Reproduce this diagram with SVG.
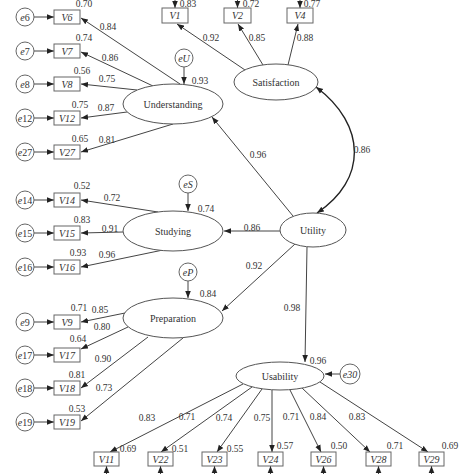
<svg xmlns="http://www.w3.org/2000/svg" width="474" height="474" viewBox="0 0 474 474">
<defs>
<marker id="a" viewBox="0 0 10 10" refX="10" refY="5" markerWidth="7" markerHeight="7" orient="auto-start-reverse" markerUnits="userSpaceOnUse"><path d="M0,1 L10,5 L0,9 z" fill="#222"/></marker>
</defs>
<style>
text{font-family:"Liberation Serif","DejaVu Serif",serif;fill:#333;font-size:9.5px;text-anchor:middle}
.v{font-style:italic;font-size:10px}
.n{font-size:10px}
.e{font-size:10px}
.l{stroke:#444;stroke-width:1;fill:none;marker-end:url(#a)}
.b{fill:#fff;stroke:#666;stroke-width:1}
.c{fill:#fff;stroke:#666;stroke-width:1}
.el{fill:#fff;stroke:#555;stroke-width:1}
</style>
<rect width="474" height="474" fill="#fff"/>
<g id="connectors">
<line class="l" x1="34" y1="17" x2="54" y2="17"/>
<line class="l" x1="34" y1="51" x2="54" y2="51"/>
<line class="l" x1="34" y1="84" x2="54" y2="84"/>
<line class="l" x1="34" y1="118" x2="54" y2="118"/>
<line class="l" x1="34" y1="152" x2="54" y2="152"/>
<line class="l" x1="34" y1="200" x2="54" y2="200"/>
<line class="l" x1="34" y1="233" x2="54" y2="233"/>
<line class="l" x1="34" y1="267" x2="54" y2="267"/>
<line class="l" x1="34" y1="322" x2="54" y2="322"/>
<line class="l" x1="34" y1="355" x2="54" y2="355"/>
<line class="l" x1="34" y1="388" x2="54" y2="388"/>
<line class="l" x1="34" y1="422" x2="54" y2="422"/>
<line class="l" x1="175" y1="-2" x2="175" y2="8"/>
<line class="l" x1="237.5" y1="-2" x2="237.5" y2="8"/>
<line class="l" x1="300" y1="-2" x2="300" y2="8"/>
<line class="l" x1="106.5" y1="476" x2="106.5" y2="466"/>
<line class="l" x1="160.5" y1="476" x2="160.5" y2="466"/>
<line class="l" x1="214.5" y1="476" x2="214.5" y2="466"/>
<line class="l" x1="270.5" y1="476" x2="270.5" y2="466"/>
<line class="l" x1="323.5" y1="476" x2="323.5" y2="466"/>
<line class="l" x1="378.5" y1="476" x2="378.5" y2="466"/>
<line class="l" x1="431.5" y1="476" x2="431.5" y2="466"/>
<line class="l" x1="184" y1="67" x2="184" y2="84"/>
<line class="l" x1="188" y1="193" x2="188" y2="211"/>
<line class="l" x1="188" y1="281" x2="188" y2="298"/>
<line class="l" x1="340" y1="374" x2="325" y2="374"/>
<line class="l" x1="180" y1="84" x2="81" y2="18"/>
<line class="l" x1="153" y1="86" x2="81" y2="52"/>
<line class="l" x1="137" y1="90" x2="81" y2="84"/>
<line class="l" x1="127" y1="112" x2="81" y2="118"/>
<line class="l" x1="173" y1="124" x2="81" y2="152"/>
<line class="l" x1="245" y1="70" x2="177" y2="24"/>
<line class="l" x1="263" y1="65" x2="238" y2="24"/>
<line class="l" x1="288" y1="65" x2="298" y2="24"/>
<line class="l" x1="158" y1="212" x2="81" y2="200"/>
<line class="l" x1="123" y1="232" x2="81" y2="233"/>
<line class="l" x1="163" y1="250" x2="81" y2="267"/>
<line class="l" x1="125" y1="313" x2="81" y2="322"/>
<line class="l" x1="128" y1="327" x2="81" y2="349"/>
<line class="l" x1="148" y1="337" x2="81" y2="388"/>
<line class="l" x1="183" y1="338" x2="81" y2="421"/>
<line class="l" x1="293" y1="216" x2="212" y2="117"/>
<line class="l" x1="280" y1="231" x2="224" y2="231"/>
<line class="l" x1="295" y1="244" x2="222" y2="311"/>
<line class="l" x1="307" y1="247" x2="305" y2="362"/>
<line class="l" x1="243" y1="384" x2="110" y2="452"/>
<line class="l" x1="252" y1="387" x2="161" y2="452"/>
<line class="l" x1="262" y1="389" x2="217" y2="452"/>
<line class="l" x1="272" y1="390" x2="272" y2="452"/>
<line class="l" x1="290" y1="390" x2="321" y2="452"/>
<line class="l" x1="302" y1="388" x2="370" y2="452"/>
<line class="l" x1="320" y1="382" x2="428" y2="452"/>
<path d="M316,87C367,125 367,180 317,213" stroke="#222" stroke-width="1.4" fill="none" marker-start="url(#a)" marker-end="url(#a)"/>
</g>
<g id="errors">
<g id="e6"><circle class="c" cx="25" cy="17" r="9"/><text class="e" x="25" y="20.5"><tspan font-style="italic">e</tspan>6</text></g>
<g id="e7"><circle class="c" cx="25" cy="51" r="9"/><text class="e" x="25" y="54.5"><tspan font-style="italic">e</tspan>7</text></g>
<g id="e8"><circle class="c" cx="25" cy="84" r="9"/><text class="e" x="25" y="87.5"><tspan font-style="italic">e</tspan>8</text></g>
<g id="e12"><circle class="c" cx="25" cy="118" r="9"/><text class="e" x="25" y="121.5"><tspan font-style="italic">e</tspan>12</text></g>
<g id="e27"><circle class="c" cx="25" cy="152" r="9"/><text class="e" x="25" y="155.5"><tspan font-style="italic">e</tspan>27</text></g>
<g id="e14"><circle class="c" cx="25" cy="200" r="9"/><text class="e" x="25" y="203.5"><tspan font-style="italic">e</tspan>14</text></g>
<g id="e15"><circle class="c" cx="25" cy="233" r="9"/><text class="e" x="25" y="236.5"><tspan font-style="italic">e</tspan>15</text></g>
<g id="e16"><circle class="c" cx="25" cy="267" r="9"/><text class="e" x="25" y="270.5"><tspan font-style="italic">e</tspan>16</text></g>
<g id="e9"><circle class="c" cx="25" cy="322" r="9"/><text class="e" x="25" y="325.5"><tspan font-style="italic">e</tspan>9</text></g>
<g id="e17"><circle class="c" cx="25" cy="355" r="9"/><text class="e" x="25" y="358.5"><tspan font-style="italic">e</tspan>17</text></g>
<g id="e18"><circle class="c" cx="25" cy="388" r="9"/><text class="e" x="25" y="391.5"><tspan font-style="italic">e</tspan>18</text></g>
<g id="e19"><circle class="c" cx="25" cy="422" r="9"/><text class="e" x="25" y="425.5"><tspan font-style="italic">e</tspan>19</text></g>
<g id="eU"><circle class="c" cx="184" cy="58" r="9"/><text class="e" x="184" y="61.5" font-style="italic">eU</text></g>
<g id="eS"><circle class="c" cx="188" cy="184" r="9"/><text class="e" x="188" y="187.5" font-style="italic">eS</text></g>
<g id="eP"><circle class="c" cx="188" cy="272" r="9"/><text class="e" x="188" y="275.5" font-style="italic">eP</text></g>
<g id="e30"><circle class="c" cx="350" cy="374" r="10"/><text class="e" x="350" y="377.5" font-style="italic">e30</text></g>
</g>
<g id="indicators">
<g id="V6"><rect class="b" x="54" y="10" width="26" height="14"/><text class="v" x="67" y="20.5">V6</text></g>
<g id="V7"><rect class="b" x="54" y="44" width="26" height="14"/><text class="v" x="67" y="54.5">V7</text></g>
<g id="V8"><rect class="b" x="54" y="77" width="26" height="14"/><text class="v" x="67" y="87.5">V8</text></g>
<g id="V12"><rect class="b" x="54" y="111" width="26" height="14"/><text class="v" x="67" y="121.5">V12</text></g>
<g id="V27"><rect class="b" x="54" y="145" width="26" height="14"/><text class="v" x="67" y="155.5">V27</text></g>
<g id="V14"><rect class="b" x="54" y="193" width="26" height="14"/><text class="v" x="67" y="203.5">V14</text></g>
<g id="V15"><rect class="b" x="54" y="226" width="26" height="14"/><text class="v" x="67" y="236.5">V15</text></g>
<g id="V16"><rect class="b" x="54" y="260" width="26" height="14"/><text class="v" x="67" y="270.5">V16</text></g>
<g id="V9"><rect class="b" x="54" y="315" width="26" height="14"/><text class="v" x="67" y="325.5">V9</text></g>
<g id="V17"><rect class="b" x="54" y="348" width="26" height="14"/><text class="v" x="67" y="358.5">V17</text></g>
<g id="V18"><rect class="b" x="54" y="381" width="26" height="14"/><text class="v" x="67" y="391.5">V18</text></g>
<g id="V19"><rect class="b" x="54" y="415" width="26" height="14"/><text class="v" x="67" y="425.5">V19</text></g>
<g id="V1"><rect class="b" x="162" y="8" width="26" height="15"/><text class="v" x="175" y="19">V1</text></g>
<g id="V2"><rect class="b" x="224" y="8" width="27" height="15"/><text class="v" x="237.5" y="19">V2</text></g>
<g id="V4"><rect class="b" x="287" y="8" width="26" height="15"/><text class="v" x="300" y="19">V4</text></g>
<g id="V11"><rect class="b" x="94" y="452" width="25" height="14"/><text class="v" x="106.5" y="462.5">V11</text></g>
<g id="V22"><rect class="b" x="148" y="452" width="25" height="14"/><text class="v" x="160.5" y="462.5">V22</text></g>
<g id="V23"><rect class="b" x="202" y="452" width="25" height="14"/><text class="v" x="214.5" y="462.5">V23</text></g>
<g id="V24"><rect class="b" x="258" y="452" width="25" height="14"/><text class="v" x="270.5" y="462.5">V24</text></g>
<g id="V26"><rect class="b" x="311" y="452" width="25" height="14"/><text class="v" x="323.5" y="462.5">V26</text></g>
<g id="V28"><rect class="b" x="366" y="452" width="25" height="14"/><text class="v" x="378.5" y="462.5">V28</text></g>
<g id="V29"><rect class="b" x="419" y="452" width="25" height="14"/><text class="v" x="431.5" y="462.5">V29</text></g>
</g>
<g id="latents">
<g id="Understanding"><ellipse class="el" cx="173" cy="104" rx="50" ry="20"/><text class="n" x="173" y="107.5">Understanding</text></g>
<g id="Satisfaction"><ellipse class="el" cx="276" cy="82" rx="42" ry="18"/><text class="n" x="276" y="85.5">Satisfaction</text></g>
<g id="Studying"><ellipse class="el" cx="173" cy="231" rx="50" ry="20"/><text class="n" x="173" y="234.5">Studying</text></g>
<g id="Preparation"><ellipse class="el" cx="173" cy="318" rx="50" ry="20"/><text class="n" x="173" y="321.5">Preparation</text></g>
<g id="Utility"><ellipse class="el" cx="313" cy="230" rx="33" ry="17"/><text class="n" x="313" y="233.5">Utility</text></g>
<g id="Usability"><ellipse class="el" cx="280" cy="376" rx="44" ry="14"/><text class="n" x="280" y="379.5">Usability</text></g>
</g>
<g id="labels">
<text x="84" y="7">0.70</text><text x="84" y="41">0.74</text><text x="82" y="74">0.56</text><text x="80" y="108">0.75</text><text x="80" y="142">0.65</text>
<text x="108" y="30">0.84</text><text x="110" y="61">0.86</text><text x="107" y="82">0.75</text><text x="106" y="111">0.87</text><text x="107" y="143">0.81</text>
<text x="200" y="84">0.93</text>
<text x="188" y="7" font-size="8.5">0.83</text><text x="251" y="7" font-size="8.5">0.72</text><text x="312" y="7" font-size="8.5">0.77</text>
<text x="211" y="41">0.92</text><text x="257" y="41">0.85</text><text x="305" y="41">0.88</text>
<text x="82" y="189">0.52</text><text x="112" y="201">0.72</text><text x="82" y="223">0.83</text><text x="110" y="232">0.91</text><text x="78" y="256">0.93</text><text x="107" y="258">0.96</text>
<text x="206" y="212">0.74</text>
<text x="79" y="311">0.71</text><text x="100" y="313">0.85</text><text x="102" y="330">0.80</text><text x="78" y="342">0.64</text><text x="103" y="362">0.90</text><text x="77" y="378">0.81</text><text x="104" y="391">0.73</text><text x="77" y="412">0.53</text>
<text x="208" y="297">0.84</text>
<text x="258" y="158">0.96</text><text x="362" y="153">0.86</text><text x="252" y="231">0.86</text><text x="254" y="269">0.92</text><text x="292" y="311">0.98</text><text x="318" y="364">0.96</text>
<text x="147" y="421">0.83</text><text x="187" y="420">0.71</text><text x="224" y="421">0.74</text><text x="262" y="421">0.75</text><text x="291" y="420">0.71</text><text x="318" y="420">0.84</text><text x="357" y="420">0.83</text>
<text x="128" y="452">0.69</text><text x="180" y="452">0.51</text><text x="235" y="452">0.55</text><text x="285" y="449">0.57</text><text x="339" y="449">0.50</text><text x="395" y="449">0.71</text><text x="450" y="449">0.69</text>
</g>
</svg>
